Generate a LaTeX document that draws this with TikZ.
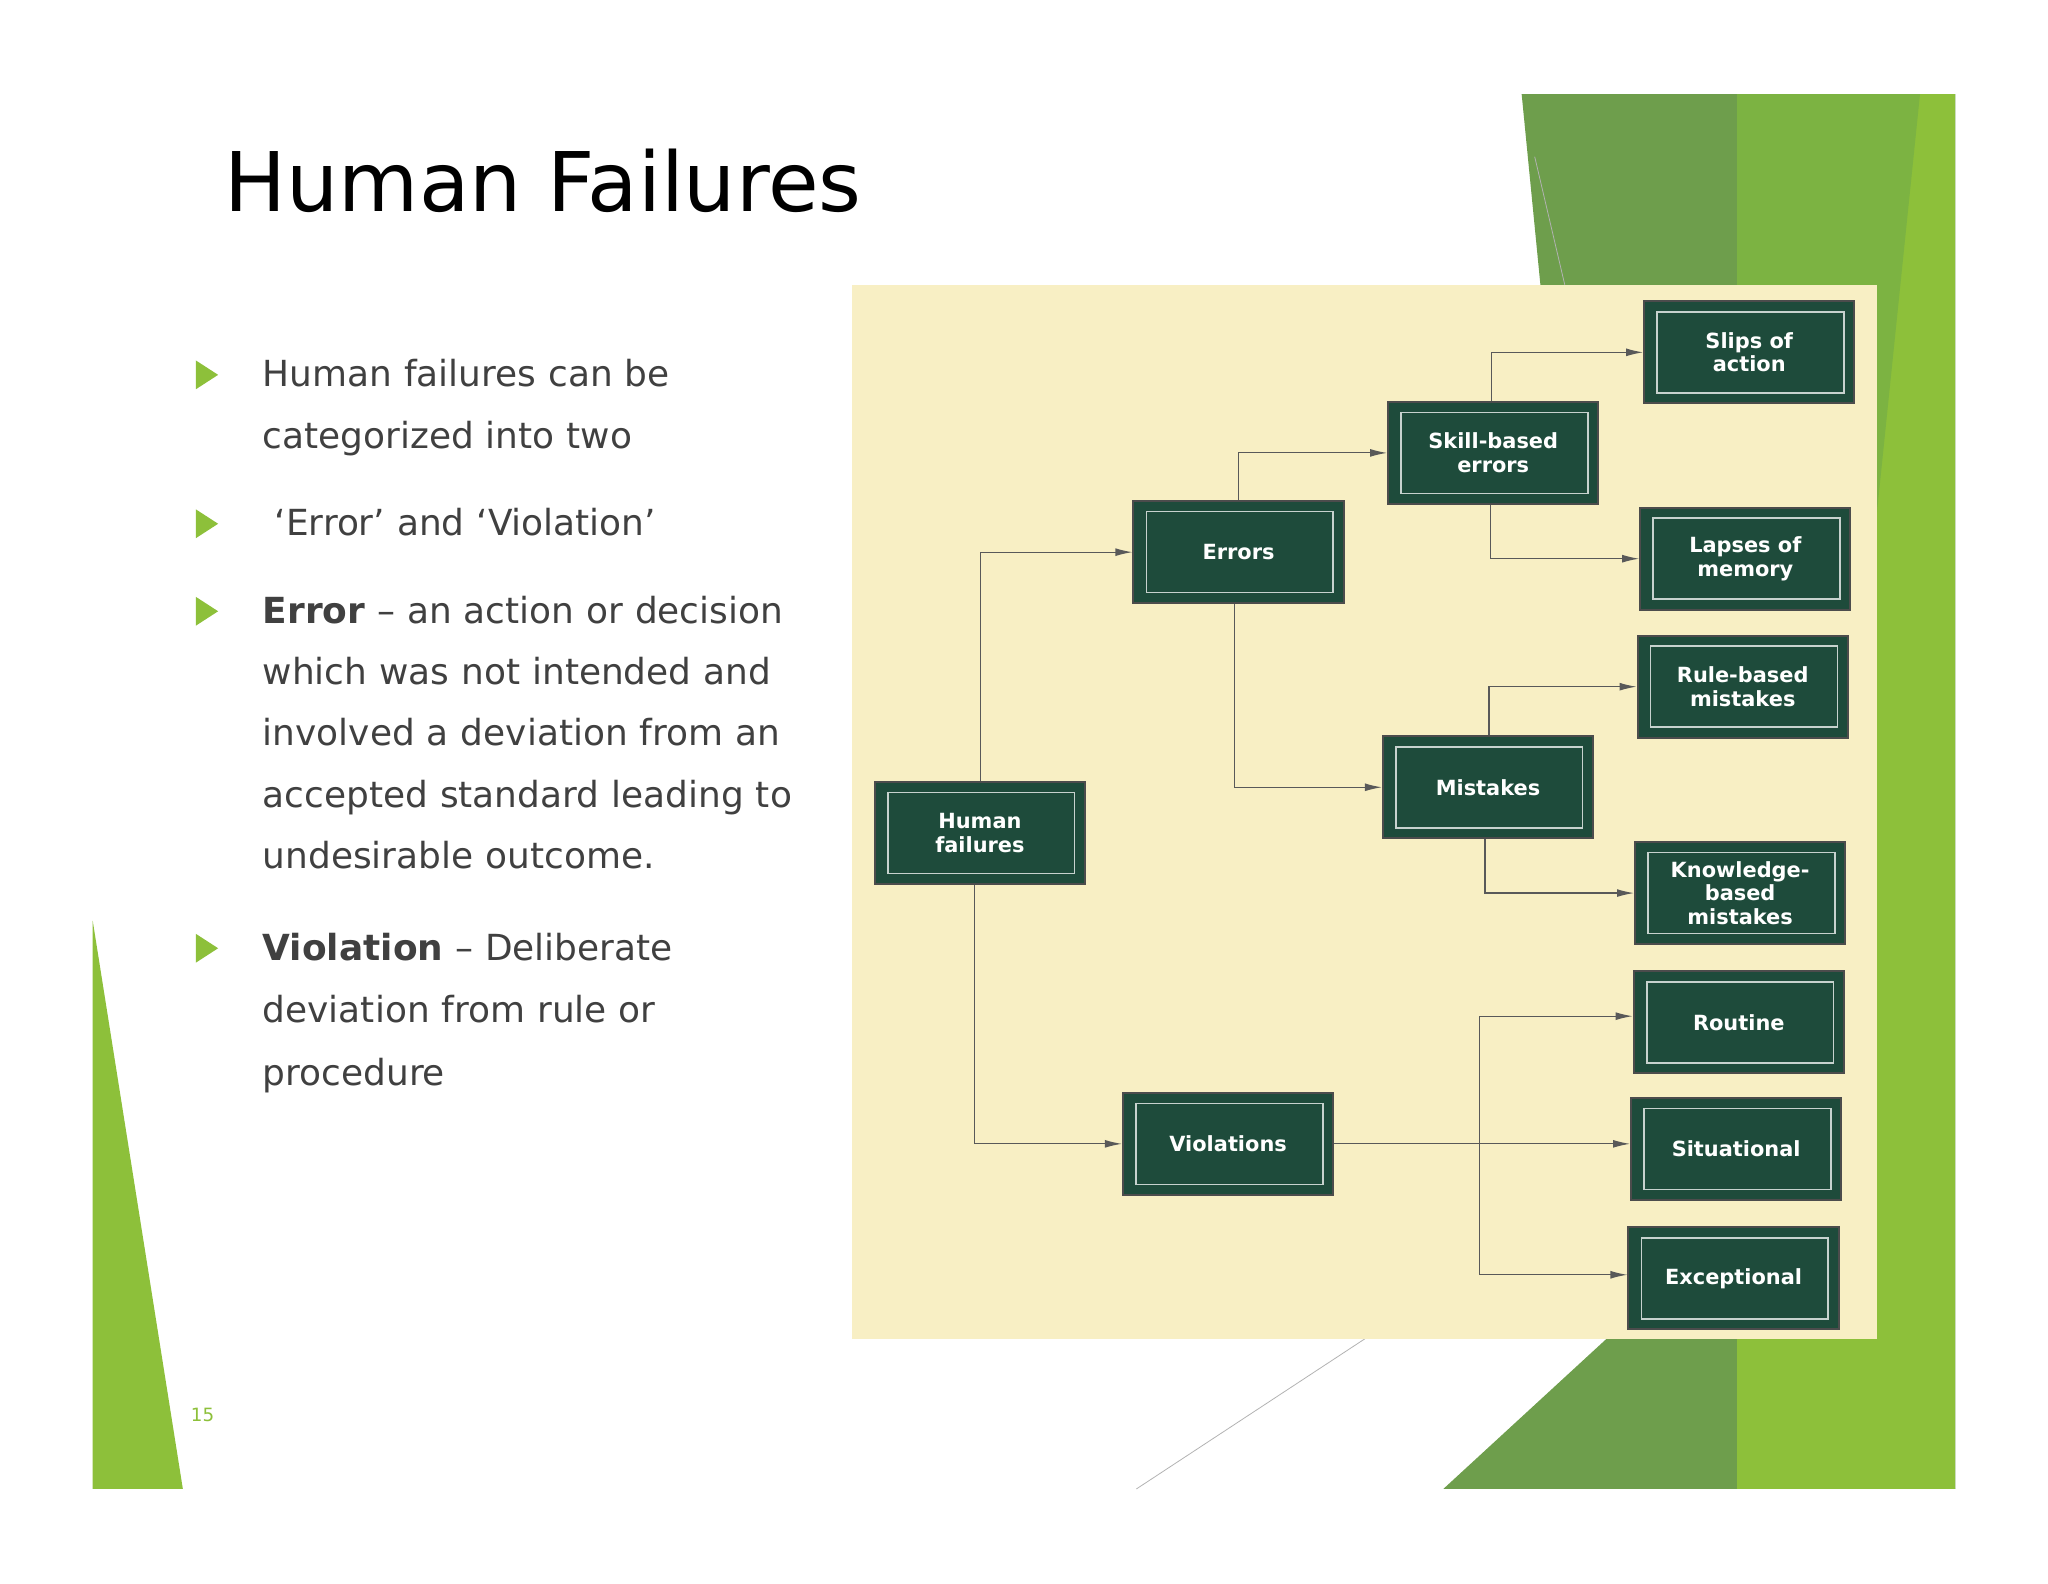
\documentclass[tikz,border=0pt]{standalone}
\usepackage{fontspec}
\setmainfont{DejaVu Sans}
\usetikzlibrary{arrows.meta}
\definecolor{lg}{HTML}{8DC03A}
\definecolor{dg}{HTML}{6E9E4C}
\definecolor{mg}{HTML}{7CB342}
\definecolor{cream}{HTML}{F8EFC4}
\definecolor{boxg}{HTML}{1E4B3B}
\definecolor{txt}{HTML}{404040}
\tikzset{
 hfbox/.style={fill=boxg, draw=black!70, line width=1.5pt, minimum width=161pt, minimum height=78pt, inner sep=0pt, align=center, text=white, font=\bfseries\fontsize{16}{18}\selectfont, anchor=north west,
   path picture={\draw[white!75!boxg, line width=1.2pt] ([shift={(10pt,-8pt)}]path picture bounding box.north west) rectangle ([shift={(-8pt,8pt)}]path picture bounding box.south east);}},
 conn/.style={draw=black!65, line width=0.9pt, -{Latex[length=13pt,width=6pt]}},
 bul/.style={fill=lg, draw=none},
 btxt/.style={anchor=base west, text=txt, font=\fontsize{27.5}{47}\selectfont, align=left, text width=460pt}
}
\begin{document}
\begin{tikzpicture}[x=1pt,y=-1pt]
\useasboundingbox (0,0) rectangle (1568,1212);
\fill[white] (0,0) rectangle (1568,1212);
% decorations
\fill[lg] (71,705) -- (140,1140) -- (71,1140) -- cycle;
\fill[dg] (1165,72) -- (1497,72) -- (1497,1140) -- (1270,1140) -- cycle;
\fill[lg] (1330,72) -- (1497,72) -- (1497,1140) -- (1330,1140) -- cycle;
\fill[mg] (1330,72) -- (1470,72) -- (1360,1140) -- (1330,1140) -- cycle;
\fill[dg] (1105,1140) -- (1230,1025) -- (1400,1025) -- (1497,1140) -- cycle;
\fill[lg] (1330,1025) -- (1497,1025) -- (1497,1140) -- (1330,1140) -- cycle;
\draw[gray!60, line width=0.6pt] (870,1140) -- (1045,1025);
\draw[gray!60, line width=0.6pt] (1175,120) -- (1198,218);
% title
\node[anchor=base west, font=\fontsize{63}{70}\selectfont, inner sep=0pt] (title) at (172,162) {Human Failures};
% bullets
\foreach \y in {287,401,468,726} \fill[bul] (150,\y-11) -- (167,\y) -- (150,\y+11) -- cycle;
\node[btxt, inner sep=0pt] (b1) at (201,296) {Human failures can be\\categorized into two};
\node[btxt, inner sep=0pt] (b2) at (201,410) {\ ‘Error’ and ‘Violation’};
\node[btxt, inner sep=0pt] (b3) at (201,477) {\textbf{Error} – an action or decision\\which was not intended and\\involved a deviation from an\\accepted standard leading to\\undesirable outcome.};
\node[btxt, inner sep=0pt, font=\fontsize{27.5}{48}\selectfont] (b4) at (201,735) {\textbf{Violation} – Deliberate\\deviation from rule or\\procedure};
\node[anchor=base west, text=lg, font=\fontsize{14}{16}\selectfont, inner sep=0pt] (pg) at (146,1088) {15};
% photo
\fill[cream] (652,218) rectangle (1437,1025);
% boxes
\node[hfbox] (hf) at (669,598) {Human\\failures};
\node[hfbox] (er) at (867,383) {Errors};
\node[hfbox] (sk) at (1062,307) {Skill-based\\errors};
\node[hfbox] (sl) at (1258,230) {Slips of\\action};
\node[hfbox] (la) at (1255,388) {Lapses of\\memory};
\node[hfbox] (ru) at (1253,486) {Rule-based\\mistakes};
\node[hfbox] (mi) at (1058,563) {Mistakes};
\node[hfbox] (kn) at (1251,644) {Knowledge-\\based\\mistakes};
\node[hfbox] (ro) at (1250,743) {Routine};
\node[hfbox] (vi) at (859,836) {Violations};
\node[hfbox] (si) at (1248,840) {Situational};
\node[hfbox] (ex) at (1246,939) {Exceptional};
% connectors
\draw[conn] (hf.north -| 751,0) |- (er.west);
\draw[conn] (hf.south -| 746,0) |- (vi.west);
\draw[conn] (er.north -| 948,0) |- (sk.west);
\draw[conn] (er.south -| 945,0) |- (mi.west);
\draw[conn] (sk.north -| 1142,0) |- (sl.west);
\draw[conn] (sk.south -| 1141,0) |- (la.west);
\draw[conn] (mi.north -| 1140,0) |- (ru.west);
\draw[conn] (mi.south -| 1137,0) |- (kn.west);
\draw[conn] (vi.east) -- (vi.east -| si.west);
\coordinate (vt) at (1133,778);
\coordinate (vb) at (1133,976);
\draw[draw=black!65, line width=0.9pt] (vt) -- (vb);
\draw[conn] (vt) -- (vt -| ro.west);
\draw[conn] (vb) -- (vb -| ex.west);
\end{tikzpicture}
\end{document}
